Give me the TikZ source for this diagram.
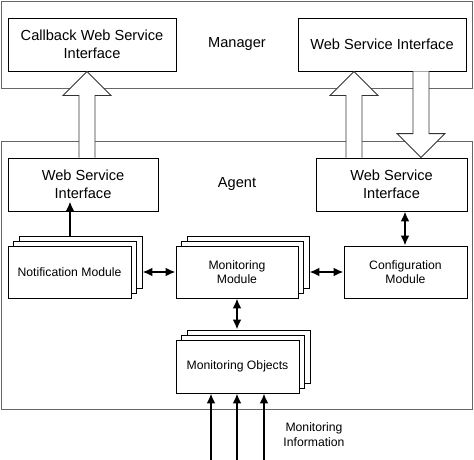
\documentclass[tikz,border=0pt]{standalone}
\usepackage{fontspec}
\setmainfont{Liberation Sans}
\usepackage{tikz}
\usetikzlibrary{arrows.meta,calc,positioning,shadows}
\tikzstyle{frame} = [draw=black!60, line width=1.6pt]
\tikzstyle{block} = [rectangle, draw=black, fill=white, line width=0.9pt, inner sep=0pt, align=center, font=\fontsize{14.6}{18}\selectfont]
\tikzstyle{module} = [block, font=\fontsize{12.2}{14.5}\selectfont]
\tikzstyle{tag} = [align=center, font=\fontsize{14.6}{18}\selectfont]
\tikzstyle{stack} = [general shadow={shadow xshift=11pt, shadow yshift=10pt, draw=black, fill=white, line width=0.9pt}, general shadow={shadow xshift=5.5pt, shadow yshift=5pt, draw=black, fill=white, line width=0.9pt}]
\tikzstyle{arrow} = [line width=2pt, -{Latex[length=10pt,width=9pt]}]
\tikzstyle{both} = [line width=2pt, {Latex[length=10pt,width=9pt]}-{Latex[length=10pt,width=9pt]}]
\tikzstyle{hollow} = [draw=black!80, fill=white, line width=0.9pt, to path={let \p1=(\tikztostart), \p2=(\tikztotarget), \p3=($(\tikztotarget)!24pt!(\tikztostart)$) in (\x1-8pt,\y1) -- (\x1-8pt,\y3) -- (\x1-24pt,\y3) -- (\x2,\y2) -- (\x1+24pt,\y3) -- (\x1+8pt,\y3) -- (\x1+8pt,\y1)}]

\begin{document}
\begin{tikzpicture}[x=1pt, y=-1pt]
\useasboundingbox (0,0) rectangle (474,460);
% Manager and agent frames
\draw[frame] (1.5,1.5) rectangle (472.5,88.5);
\draw[frame] (1.5,141.5) rectangle (472.5,409.5);
\node[tag] (mgr) at (237,44) {Manager};
\node[tag] (agt) at (237,184) {Agent};

% Interfaces
\node[block, minimum width=168pt, minimum height=53pt] (cbwsi) at (92,44.5) {Callback Web Service\\Interface};
\node[block, minimum width=168pt, minimum height=53pt] (mwsi) at (382,44.5) {Web Service Interface};
\node[block, minimum width=150pt, minimum height=53pt] (awsil) at (83,184.5) {Web Service\\Interface};
\node[block, minimum width=151pt, minimum height=53pt] (awsir) at (391.5,184.5) {Web Service\\Interface};

% Modules
\node[module, stack, minimum width=123pt, minimum height=52pt] (notif) at (69.5,272) {Notification Module};
\node[module, stack, minimum width=122pt, minimum height=52pt] (monmod) at (237,272) {Monitoring\\Module};
\node[module, minimum width=123pt, minimum height=52pt] (config) at (405.5,272) {Configuration\\Module};
\node[module, stack, minimum width=123pt, minimum height=53pt] (monobj) at (237.5,366.5) {Monitoring Objects};
\node[tag, font=\fontsize{12.2}{15}\selectfont] (info) at (314,434.5) {Monitoring\\Information};

% Manager <-> agent
\draw[hollow] ([xshift=4pt]awsil.north) to ([xshift=4pt]awsil.north |- cbwsi.south);
\draw[hollow] ([xshift=-37.5pt]awsir.north) to ([xshift=-37.5pt]awsir.north |- mwsi.south);
\draw[hollow] ([xshift=39pt]mwsi.south) to ([xshift=39pt]mwsi.south |- awsir.north);

% Inside the agent
\draw[arrow] ([xshift=0.5pt,yshift=10pt]notif.north) -- ([xshift=0.5pt,yshift=10pt]notif.north |- awsil.south);
\draw[both] ([xshift=11pt]notif.east) -- (monmod.west);
\draw[both] ([xshift=11pt]monmod.east) -- (config.west);
\draw[both] ([xshift=-0.5pt]config.north |- awsir.south) -- ([xshift=-0.5pt]config.north);
\draw[both] (monmod.south) -- ([yshift=10pt]monmod.south |- monobj.north);

% Monitoring information
\coordinate (bottom) at (0,460);
\foreach \i/\dx in {1/-26.5,2/-0.5,3/26.5} {
  \coordinate (feed\i) at ([xshift=\dx pt]monobj.south |- bottom);
  \draw[arrow] (feed\i) -- (feed\i |- monobj.south);
}
\end{tikzpicture}
\end{document}
